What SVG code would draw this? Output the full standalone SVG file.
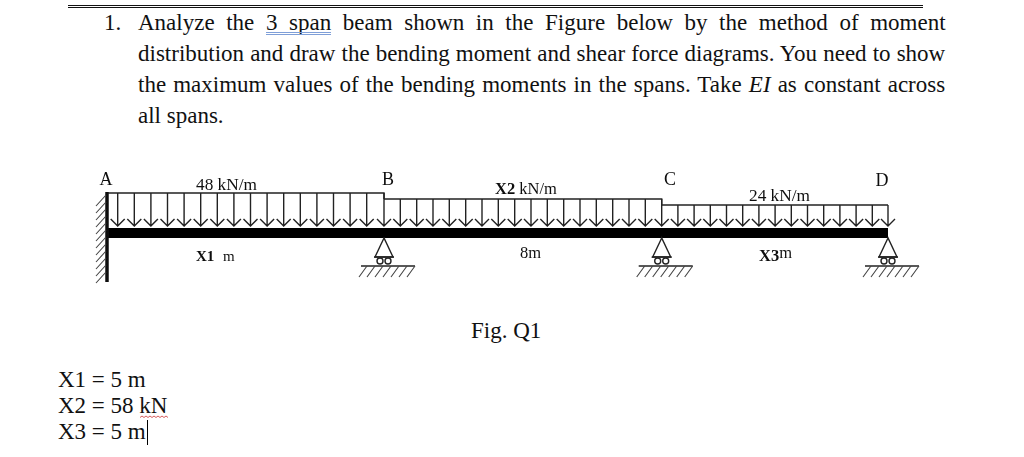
<svg xmlns="http://www.w3.org/2000/svg" xmlns:xlink="http://www.w3.org/1999/xlink" width="1024" height="457" viewBox="0 0 1024 457">
<style>
text{font-family:"Liberation Serif","Times New Roman",serif;fill:#111}
.p{font-size:23px}
.x{font-size:23px}
.l{font-size:16.5px}
.m{font-size:17.3px}
.n{font-size:18px;text-anchor:middle}
.b{font-weight:bold}
.s{fill:none;stroke:#222;stroke-width:1.4}
.h{fill:none;stroke:#444;stroke-width:1.1}
</style>
<defs>
<filter id="soft"><feGaussianBlur stdDeviation="0.35"/></filter>
<g id="h1"><path class="s" d="M0 -33V0M-7 -7L0 0L7 -7"/></g>
<g id="h2"><path class="s" d="M0 -27V0M-7 -7L0 0L7 -7"/></g>
<g id="h3"><path class="s" d="M0 -21V0M-7 -7L0 0L7 -7"/></g>
<g id="sup">
<path class="s" d="M0 0L-9 19H9Z" fill="#fff"/>
<path class="s" d="M-10 19H10"/>
<circle class="s" cx="-4" cy="23" r="3"/><circle class="s" cx="4" cy="23" r="3"/>
<path class="s" d="M-23 28H31"/>
<path class="h" d="M-17 28L-25 39M-9 28L-17 39M-1 28L-9 39M7 28L-1 39M15 28L7 39M23 28L15 39M31 28L23 39"/>
</g>
</defs>
<rect width="1024" height="457" fill="#fff"/>
<g id="rule"><path d="M68 5.5H923" stroke="#111" stroke-width="1"/><path d="M68 7.5H923" stroke="#111" stroke-width="1"/></g>
<g id="question" class="p">
<text x="104" y="29.5">1.</text>
<text x="138" y="29.5" word-spacing="5.85">Analyze the 3 span beam shown in the Figure below by the method of moment</text>
<text x="138" y="61" word-spacing="0.33">distribution and draw the bending moment and shear force diagrams. You need to show</text>
<text x="138" y="92" word-spacing="1.36">the maximum values of the bending moments in the spans. Take <tspan font-style="italic">EI</tspan> as constant across</text>
<text x="138" y="123">all spans.</text>
<path d="M266 32.5H331M266 34.5H331" stroke="#7f9fd8" stroke-width="1"/>
</g>
<g filter="url(#soft)">
<g id="connectors">
<g id="load-ab"><path class="s" d="M107 193H384V199"/>
<use xlink:href="#h1" x="117.7" y="226"/><use xlink:href="#h1" x="134.3" y="226"/><use xlink:href="#h1" x="150.9" y="226"/><use xlink:href="#h1" x="167.5" y="226"/><use xlink:href="#h1" x="184.1" y="226"/><use xlink:href="#h1" x="200.7" y="226"/><use xlink:href="#h1" x="217.3" y="226"/><use xlink:href="#h1" x="233.9" y="226"/><use xlink:href="#h1" x="250.5" y="226"/><use xlink:href="#h1" x="267.1" y="226"/><use xlink:href="#h1" x="283.7" y="226"/><use xlink:href="#h1" x="300.3" y="226"/><use xlink:href="#h1" x="316.9" y="226"/><use xlink:href="#h1" x="333.5" y="226"/><use xlink:href="#h1" x="350.1" y="226"/><use xlink:href="#h1" x="366.7" y="226"/><use xlink:href="#h1" x="384" y="226"/>
</g>
<g id="load-bc"><path class="s" d="M384 199H661.7V205"/>
<use xlink:href="#h2" x="400.3" y="226"/><use xlink:href="#h2" x="416.7" y="226"/><use xlink:href="#h2" x="433" y="226"/><use xlink:href="#h2" x="449.3" y="226"/><use xlink:href="#h2" x="465.7" y="226"/><use xlink:href="#h2" x="482" y="226"/><use xlink:href="#h2" x="498.3" y="226"/><use xlink:href="#h2" x="514.7" y="226"/><use xlink:href="#h2" x="531" y="226"/><use xlink:href="#h2" x="547.3" y="226"/><use xlink:href="#h2" x="563.7" y="226"/><use xlink:href="#h2" x="580" y="226"/><use xlink:href="#h2" x="596.3" y="226"/><use xlink:href="#h2" x="612.7" y="226"/><use xlink:href="#h2" x="629" y="226"/><use xlink:href="#h2" x="645.3" y="226"/><use xlink:href="#h2" x="661.7" y="226"/>
</g>
<g id="load-cd"><path class="s" d="M661.7 205H888"/>
<use xlink:href="#h3" x="677.9" y="226"/><use xlink:href="#h3" x="694.1" y="226"/><use xlink:href="#h3" x="710.3" y="226"/><use xlink:href="#h3" x="726.5" y="226"/><use xlink:href="#h3" x="742.7" y="226"/><use xlink:href="#h3" x="758.9" y="226"/><use xlink:href="#h3" x="775.1" y="226"/><use xlink:href="#h3" x="791.3" y="226"/><use xlink:href="#h3" x="807.5" y="226"/><use xlink:href="#h3" x="823.7" y="226"/><use xlink:href="#h3" x="839.9" y="226"/><use xlink:href="#h3" x="856.1" y="226"/><use xlink:href="#h3" x="872.3" y="226"/><use xlink:href="#h3" x="888" y="226"/>
</g>
</g>
<g id="beam"><rect x="107" y="228" width="781" height="10" fill="#000"/></g>
<g id="node-A"><path d="M107 192V282" stroke="#111" stroke-width="3.5"/>
<path class="h" d="M106 195L96 206M106 202L96 213M106 209L96 220M106 216L96 227M106 223L96 234M106 230L96 241M106 237L96 248M106 244L96 255M106 251L96 262M106 258L96 269M106 265L96 276M106 272L96 283"/>
<text class="n" x="106" y="185">A</text></g>
<g id="node-B"><use xlink:href="#sup" x="384" y="238"/><text class="n" x="388" y="185">B</text></g>
<g id="node-C"><use xlink:href="#sup" x="661.7" y="238"/><text class="n" x="670" y="185">C</text></g>
<g id="node-D"><use xlink:href="#sup" x="888" y="238"/><text class="n" x="882" y="186">D</text></g>
<g id="labels">
<text class="m" x="196" y="190">48 kN/m</text>
<text class="l" x="495" y="194"><tspan class="b">X2</tspan> kN/m</text>
<text class="m" x="749" y="200.5">24 kN/m</text>
<text class="l" x="196" y="261" style="font-size:15px"><tspan class="b">X1</tspan>  <tspan dx="5">m</tspan></text>
<text class="l" x="520" y="258">8m</text>
<text class="l" x="759" y="261"><tspan class="b">X3</tspan><tspan dy="-3">m</tspan></text>
</g>
</g>
<g id="caption"><text class="x" x="471" y="338">Fig. Q1</text></g>
<g id="values" class="x">
<text x="58" y="387">X1 = 5 m</text>
<text x="58" y="413">X2 = 58 kN</text>
<text x="58" y="439">X3 = 5 m</text>
<path d="M140 417.5l2-1.5 2 1.5 2-1.5 2 1.5 2-1.5 2 1.5 2-1.5 2 1.5 2-1.5 2 1.5 2-1.5 2 1.5 2-1.5 2 1.5" fill="none" stroke="#c33" stroke-width="0.8"/>
<path d="M147.5 420V445" stroke="#000" stroke-width="1"/>
</g>
</svg>
